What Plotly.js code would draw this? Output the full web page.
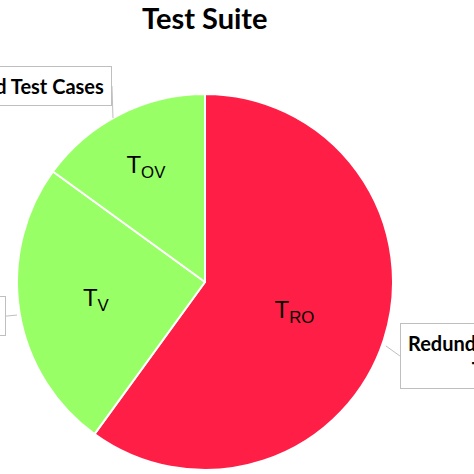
<!DOCTYPE html>
<html>
<head>
<meta charset="utf-8">
<script src="https://cdn.plot.ly/plotly-3.0.1.min.js"></script>
<style>
  html, body { margin: 0; padding: 0; background: #fff; }
  #chart { width: 474px; height: 474px; }
</style>
</head>
<body>
<div id="chart"></div>
<script>
// Test suite composition (percent of test cases)
const sliceLabels = ['T<sub>RO</sub>', 'T<sub>V</sub>', 'T<sub>OV</sub>'];
const sliceValues = [60, 25, 15];
const sliceColors = ['#FF1E46', '#99FF66', '#99FF66'];

// Callout boxes
const calloutTexts = ['Modified Test Cases', 'Redundant and Obsolete<br>Test Cases', 'Valid Test Cases'];

const trace = {
  type: 'pie',
  labels: sliceLabels,
  values: sliceValues,
  sort: false,
  direction: 'clockwise',
  rotation: 0,
  marker: { colors: sliceColors, line: { color: '#ffffff', width: 2 } },
  textinfo: 'label',
  textposition: 'inside',
  insidetextorientation: 'horizontal',
  insidetextfont: { family: 'Liberation Sans, Arial, sans-serif', size: 24, color: '#000000' },
  hoverinfo: 'label+percent',
  showlegend: false
};

const boxStyle = {
  showarrow: true,
  arrowhead: 0,
  arrowwidth: 1,
  arrowcolor: '#bfbfbf',
  bgcolor: '#ffffff',
  bordercolor: '#bfbfbf',
  borderwidth: 1,
  borderpad: 7,
  font: { family: 'Lato, sans-serif', size: 20, color: '#000000', weight: 700 },
  xref: 'paper',
  yref: 'paper'
};

const layout = {
  width: 474,
  height: 474,
  margin: { l: 17, r: 81, t: 94, b: 4 },
  paper_bgcolor: '#ffffff',
  title: {
    text: 'Test Suite',
    x: 0.432,
    xanchor: 'center',
    y: 0.961,
    yanchor: 'middle',
    font: { family: 'Lato, sans-serif', size: 29, color: '#000000', weight: 700 }
  },
  annotations: [
    Object.assign({}, boxStyle, {
      text: calloutTexts[0], x: 0.2553, y: 0.936,
      xanchor: 'right', yanchor: 'middle', ax: -1, ay: -32
    }),
    Object.assign({}, boxStyle, {
      text: calloutTexts[1], x: 0.981, y: 0.33,
      xanchor: 'left', yanchor: 'middle', align: 'center', ax: 14, ay: 10
    }),
    Object.assign({}, boxStyle, {
      text: calloutTexts[2], x: 0.0, y: 0.412,
      xanchor: 'right', yanchor: 'middle', ax: -11, ay: 1
    })
  ]
};

Plotly.newPlot('chart', [trace], layout, { displayModeBar: false, staticPlot: true });
</script>
</body>
</html>
